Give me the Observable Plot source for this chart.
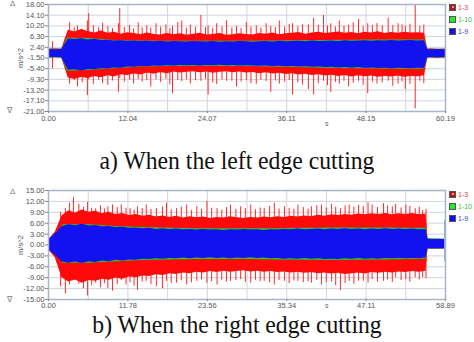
<!DOCTYPE html>
<html>
<head>
<meta charset="utf-8">
<script src="https://cdn.jsdelivr.net/npm/d3@7"></script>
<script src="https://cdn.jsdelivr.net/npm/@observablehq/plot@0.6"></script>
<style>
  html, body { margin: 0; padding: 0; background: #fff; }
  #wrap { position: relative; width: 474px; height: 342px; overflow: hidden; background: #fff; font-family: "Liberation Sans", Arial, sans-serif; }
  .plot { position: absolute; left: 0; }
  .cap { position: absolute; left: 0; width: 474px; text-align: center; font-family: "Liberation Serif", "Times New Roman", serif; font-size: 26px; color: #111; white-space: nowrap; line-height: 22px; height: 22px; transform: scaleX(0.91); transform-origin: 237px 0; }
  .lbl { position: absolute; font-size: 7px; color: #666; line-height: 1; }
  .arr { position: absolute; font-size: 8px; color: #777; line-height: 1; }
  .leg { position: absolute; left: 449px; font-size: 7px; line-height: 1; }
  .leg div { height: 12px; display: flex; align-items: center; }
  .sw { width: 7px; height: 7px; margin-right: 2px; box-sizing: border-box; border: 1px solid #555; position: relative; }
</style>
</head>
<body>
<div id="wrap"></div>
<script>
// ---------- Chart a: left edge cutting ----------
const aXTicks = [0, 12.04, 24.07, 36.11, 48.15, 60.19];
const aXGrid = [6.02, 12.04, 18.06, 24.07, 30.09, 36.11, 42.13, 48.15, 54.17];
const aYTicks = [18, 14.1, 10.2, 6.3, 2.4, -1.5, -5.4, -9.3, -13.2, -17.1, -21];

const aTime = [0,1,2,
  3,4,5,6,7,8,9,10,11,12,
  13,14,15,16,17,18,19,20,21,22,
  23,24,25,26,27,28,29,30,31,32,
  33,34,35,36,37,38,39,40,41,42,
  43,44,45,46,47,48,49,50,51,52,
  53,54,55,56,57,
  57.5,58,59,60.19];
const aRedHi = [1.8,1.9,1.8,
  8.6,8.0,8.9,8.2,7.6,8.3,7.5,7.9,7.2,7.7,
  7.4,7.0,7.6,7.1,6.9,7.4,7.0,7.3,6.8,7.2,
  7.5,6.9,7.1,7.4,6.8,7.0,7.3,7.1,6.9,7.4,
  7.2,7.6,7.0,7.3,7.5,7.8,7.2,7.6,7.9,7.4,
  7.7,8.0,7.5,7.8,7.3,7.9,7.6,8.1,7.4,7.8,
  7.5,7.9,7.6,7.7,7.5,
  1.8,1.9,1.7,1.8];
const aRedLo = [-1.5,-1.4,-1.5,
  -8.8,-9.3,-8.6,-9.0,-8.2,-8.7,-8.0,-8.4,-7.6,-7.9,
  -7.3,-7.7,-7.0,-7.4,-6.8,-7.2,-6.6,-7.0,-6.7,-6.5,
  -6.9,-6.6,-7.1,-6.7,-6.5,-6.9,-6.6,-7.0,-6.8,-7.2,
  -6.9,-7.3,-7.1,-7.5,-7.2,-7.7,-7.4,-7.9,-7.6,-8.1,
  -7.8,-8.2,-7.9,-8.4,-8.0,-8.3,-8.1,-8.5,-8.2,-8.4,
  -8.1,-8.5,-8.2,-8.3,-8.0,
  -1.6,-1.5,-1.7,-1.5];
const aBlueHi = [1.6,1.5,1.6,
  5.4,5.2,5.5,5.1,5.3,4.9,5.0,4.7,4.8,4.6,
  4.7,4.5,4.6,4.4,4.6,4.3,4.5,4.4,4.3,4.5,
  4.4,4.3,4.5,4.2,4.4,4.3,4.5,4.4,4.2,4.4,
  4.5,4.3,4.6,4.4,4.5,4.6,4.4,4.7,4.5,4.6,
  4.7,4.5,4.8,4.6,4.7,4.8,4.6,4.8,4.7,4.9,
  4.7,4.8,4.9,4.7,4.8,
  1.6,1.5,1.6,1.5];
const aBlueLo = [-1.4,-1.3,-1.4,
  -6.0,-5.8,-6.2,-5.7,-5.8,-5.4,-5.5,-5.1,-5.2,-4.8,
  -4.9,-4.6,-4.7,-4.4,-4.5,-4.3,-4.4,-4.2,-4.3,-4.2,
  -4.4,-4.2,-4.3,-4.1,-4.3,-4.2,-4.4,-4.3,-4.4,-4.5,
  -4.4,-4.6,-4.5,-4.7,-4.6,-4.8,-4.7,-4.9,-4.8,-5.0,
  -4.9,-5.1,-5.0,-5.2,-5.0,-5.3,-5.1,-5.3,-5.2,-5.4,
  -5.2,-5.3,-5.4,-5.2,-5.3,
  -1.4,-1.3,-1.4,-1.3];

const aGreenTime = [0, 2, 2.9, 6, 10, 14, 18, 22, 26, 30, 34, 38, 42, 46, 50, 54, 57, 57.5, 60.19];
const aGreenHi = [1.7,1.7,5.7,5.6,4.9,4.7,4.6,4.6,4.6,4.6,4.7,4.8,4.9,5.0,5.1,5.1,5.1,1.7,1.7];
const aGreenLo = [-1.5,-1.5,-6.3,-6.1,-5.4,-4.8,-4.6,-4.5,-4.5,-4.6,-4.8,-5.0,-5.2,-5.4,-5.5,-5.6,-5.6,-1.5,-1.5];

const aSpikeT = [0.6,3.2,3.9,4.4,5.1,5.9,6.1,6.8,7.6,8.2,
  9.0,9.7,10.6,10.8,11.5,12.3,12.9,13.6,14.2,14.9,
  15.5,16.3,17.0,17.8,18.4,18.8,19.6,20.2,20.9,21.5,
  22.3,23.1,23.8,24.2,24.9,25.5,26.3,27.0,27.8,28.5,
  29.2,30.0,30.7,31.5,32.2,33.0,33.7,34.4,35.0,35.8,
  36.5,37.0,37.8,38.5,39.4,40.2,40.9,41.7,42.3,42.8,
  43.5,44.1,44.8,45.5,46.2,47.0,47.7,48.4,49.1,49.8,
  50.6,51.5,52.2,53.0,53.6,54.1,54.8,55.6,56.3,56.9];
const aSpikeHi = [4.5,11.4,9.5,10.2,9.0,12.0,14.7,10.3,9.6,11.2,
  10.0,9.2,11.0,16.5,9.6,10.4,9.1,11.3,9.5,10.2,
  9.4,11.0,9.8,10.6,9.2,10.0,11.4,12.0,9.4,10.5,
  9.7,14.0,9.6,10.1,9.3,11.0,9.9,12.1,9.5,10.0,
  9.3,11.5,9.8,10.2,9.4,11.0,10.0,9.6,12.0,9.7,
  10.8,11.0,9.9,10.6,10.5,13.0,10.4,14.0,10.2,11.0,
  9.8,12.0,10.1,10.5,11.3,12.5,10.0,11.0,10.4,11.0,
  10.2,13.0,10.3,11.0,10.6,10.0,10.8,18.0,10.0,10.5];
const aSpikeLo = [-5.5,-11,-9.8,-12,-10.5,-15.2,-9.5,-11.2,-9.6,-10.8,
  -11.5,-9.9,-14,-9,-10.3,-9.6,-11,-9.4,-10.2,-9.8,
  -12,-9.5,-10.4,-9.2,-11.3,-14.5,-9.7,-10.1,-9.5,-11,
  -9.8,-10,-9.3,-15,-10.6,-11.2,-9.5,-10,-9.9,-12,
  -10.2,-9.8,-10.8,-11.1,-9.6,-10.1,-14,-9.9,-11,-10.3,
  -9.7,-15,-10.5,-11.4,-13,-15,-10.9,-10,-11.6,-14,
  -10.4,-11,-10,-12,-10.7,-10,-11.5,-14.5,-10.3,-11,
  -10.6,-10,-11.8,-11,-10.2,-13,-11.1,-20,-10,-10.8];

// ---------- Chart b: right edge cutting ----------
const bXTicks = [0, 11.78, 23.56, 35.34, 47.11, 58.89];
const bXGrid = [5.89, 11.78, 17.67, 23.56, 29.45, 35.34, 41.23, 47.11, 53.0];
const bYTicks = [15, 12, 9, 6, 3, 0, -3, -6, -9, -12, -15];

const bTime = [0,1,2,
  3,4,5,6,7,8,9,10,11,12,
  13,14,15,16,17,18,19,20,21,22,
  23,24,25,26,27,28,29,30,31,32,
  33,34,35,36,37,38,39,40,41,42,
  43,44,45,46,47,48,49,50,51,52,
  53,54,55,56,
  56.3,57,58,58.89];
const bRedHi = [1.4,3.5,8.0,
  9.4,8.8,9.6,9.0,9.3,8.6,9.0,8.4,8.7,8.1,
  8.4,7.9,8.2,7.7,8.0,7.6,7.9,7.4,7.8,7.5,
  7.7,7.3,7.6,7.4,7.8,7.5,7.3,7.6,7.4,7.7,
  7.5,7.8,7.6,7.9,7.7,8.0,7.8,8.2,7.9,8.3,
  8.1,8.4,8.2,8.5,8.3,8.6,8.4,8.7,8.3,8.6,
  8.4,8.7,8.3,8.5,
  1.7,1.6,1.5,1.4];
const bRedLo = [-1.3,-3.5,-9.0,
  -10.2,-9.6,-10.5,-9.8,-10.0,-9.4,-9.7,-9.1,-9.4,-8.8,
  -9.0,-8.5,-8.7,-8.2,-8.4,-7.9,-8.1,-7.7,-7.9,-7.5,
  -7.7,-7.3,-7.6,-7.2,-7.5,-7.3,-7.1,-7.4,-7.2,-7.5,
  -7.3,-7.6,-7.4,-7.7,-7.5,-7.8,-7.6,-7.9,-7.7,-8.0,
  -7.8,-8.1,-7.9,-7.7,-8.0,-7.6,-7.8,-7.5,-7.7,-7.4,
  -7.6,-7.3,-7.5,-7.2,
  -1.2,-1.1,-1.2,-1.1];
const bBlueHi = [1.4,3.0,5.0,
  5.6,5.3,5.7,5.2,5.4,5.0,5.1,4.8,4.9,4.6,
  4.7,4.5,4.6,4.3,4.5,4.2,4.4,4.2,4.3,4.1,
  4.3,4.1,4.2,4.0,4.2,4.1,4.3,4.1,4.2,4.0,
  4.2,4.1,4.3,4.2,4.4,4.2,4.3,4.4,4.2,4.4,
  4.3,4.5,4.3,4.4,4.2,4.4,4.3,4.5,4.3,4.4,
  4.3,4.4,4.2,4.3,
  1.6,1.5,1.6,1.5];
const bBlueLo = [-1.3,-2.8,-4.6,
  -5.0,-4.7,-5.1,-4.6,-4.8,-4.4,-4.6,-4.2,-4.4,-4.1,
  -4.2,-3.9,-4.0,-3.8,-3.9,-3.7,-3.8,-3.6,-3.8,-3.6,
  -3.7,-3.5,-3.7,-3.6,-3.8,-3.6,-3.7,-3.5,-3.7,-3.6,
  -3.8,-3.7,-3.9,-3.8,-3.9,-3.7,-3.9,-3.8,-4.0,-3.9,
  -4.0,-3.8,-3.9,-3.7,-3.9,-3.8,-3.9,-3.7,-3.8,-3.7,
  -3.8,-3.7,-3.8,-3.6,
  -1.0,-1.1,-1.0,-1.0];

const bGreenTime = [0, 0.7, 2.2, 6, 10, 14, 18, 22, 26, 30, 34, 38, 42, 46, 50, 54, 56, 56.3, 58.89];
const bGreenHi = [1.5,1.5,5.6,5.6,5.1,4.8,4.6,4.5,4.5,4.5,4.5,4.6,4.7,4.7,4.7,4.6,4.6,1.7,1.6];
const bGreenLo = [-1.4,-1.4,-5.0,-5.0,-4.6,-4.3,-4.1,-4.0,-4.0,-4.0,-4.1,-4.2,-4.3,-4.2,-4.1,-4.0,-3.9,-1.1,-1.1];

const bSpikeT = [1.8,2.5,3.1,3.7,4.5,5.2,5.8,6.4,7.0,7.7,
  8.3,8.8,9.5,10.2,10.8,11.5,12.1,12.7,13.2,13.9,
  14.5,15.2,16.0,16.9,17.5,18.2,19.0,19.7,20.5,21.2,
  22.0,22.7,23.5,24.2,25.0,25.7,26.4,27.0,27.8,28.5,
  29.2,30.0,30.7,31.4,32.0,32.8,33.5,34.2,35.0,35.7,
  36.4,37.0,37.8,38.5,39.0,39.8,40.5,41.2,42.0,42.6,
  43.3,44.0,44.6,45.3,46.0,46.7,47.4,48.0,48.8,49.7,
  50.3,51.0,51.5,52.3,53.0,53.6,54.4,55.0,55.5,56.0];
const bSpikeHi = [9.0,10.0,11.5,13.1,11.2,10.4,11.7,10.1,10.0,10.8,
  9.9,10.5,11.0,10.3,11.0,10.1,10.0,9.6,10.5,10.0,
  11.0,9.8,10.0,10.5,11.5,9.7,10.0,10.4,11.0,9.5,
  10.5,9.8,12.0,10.1,10.0,9.6,10.3,11.0,9.8,10.5,
  10.0,11.0,9.7,10.2,10.0,10.6,11.5,9.9,10.5,10.1,
  9.8,11.0,10.3,9.9,10.5,10.8,11.0,10.2,11.2,10.4,
  10.0,10.7,11.0,10.4,10.9,10.5,11.6,11.0,10.3,11.4,
  10.8,10.5,11.2,10.2,11.0,10.6,10.0,10.4,9.5,9.8];
const bSpikeLo = [-11.5,-13.5,-11.0,-9.5,-10.8,-12.0,-14.0,-11.2,-10.5,-11.8,
  -10.6,-12.0,-12.7,-10.9,-9.8,-11.0,-10.4,-11.3,-12.5,-10.2,
  -10.0,-10.9,-11.5,-12.0,-10.0,-10.6,-10.5,-9.8,-11.0,-10.4,
  -10.0,-9.6,-10.5,-10.1,-11.0,-9.7,-10.2,-10.0,-9.8,-9.5,
  -10.3,-10.5,-9.7,-10.1,-10.0,-10.4,-11.0,-9.8,-10.0,-10.6,
  -9.9,-10.0,-10.3,-10.1,-10.5,-9.8,-11.0,-10.4,-10.2,-11.2,
  -12.5,-10.6,-10.0,-10.8,-10.0,-10.0,-10.5,-9.5,-10.2,-10.0,
  -9.6,-10.3,-9.0,-9.8,-9.5,-10.2,-9.0,-9.6,-9.0,-9.3];
const bEndSpikeT = [58.75];
const bEndSpikeHi = [6.8];
const bEndSpikeLo = [-4.6];

// ---------- rendering ----------
const RED = "#ff0a0a", GREEN = "#22cc22", BLUE = "#1212f0";
const fmt = d => d.toFixed(2);

function band(times, hi, lo) { return times.map((t, i) => ({t, hi: hi[i], lo: lo[i]})); }

function makeChart(o) {
  return Plot.plot({
    width: 474,
    height: o.height,
    marginLeft: 48,
    marginRight: 29,
    marginTop: 4,
    marginBottom: o.height - 4 - o.inner,
    style: {fontFamily: "Liberation Sans, Arial, sans-serif", fontSize: "7.5px", color: "#555", background: "#fff"},
    x: {domain: o.xDomain},
    y: {domain: o.yDomain},
    marks: [
      Plot.gridY(o.yTicks, {stroke: "#cfd4dd", strokeOpacity: 1}),
      Plot.gridX(o.xGrid, {stroke: "#cfd4dd", strokeOpacity: 1}),
      Plot.ruleX(o.spikes, {x: "t", y1: "lo", y2: "hi", stroke: "#ff2a2a", strokeWidth: 1}),
      Plot.areaY(o.red, {x: "t", y1: "lo", y2: "hi", fill: RED}),
      Plot.areaY(o.green, {x: "t", y1: "lo", y2: "hi", fill: GREEN}),
      Plot.areaY(o.blue, {x: "t", y1: "lo", y2: "hi", fill: BLUE}),
      o.extra ? Plot.ruleX(o.extra, {x: "t", y1: "lo", y2: "hi", stroke: "#8ea4de", strokeWidth: 1}) : null,
      Plot.frame({stroke: "#a9b4c8", strokeWidth: 1.5}),
      Plot.axisY(o.yTicks, {tickFormat: fmt, tickSize: 3, tickPadding: 1, stroke: "#888",
        label: "m/s^2", labelAnchor: "center", labelArrow: "none", labelOffset: 31, fill: "#555"}),
      Plot.axisX(o.xTicks, {tickFormat: fmt, tickSize: 2, tickPadding: o.xPad, stroke: "#888", label: null, fill: "#555"})
    ]
  });
}

const wrap = document.getElementById("wrap");

const chartA = makeChart({
  height: 125, inner: 107, xPad: 2,
  xDomain: [0, 60.19], yDomain: [-21, 18],
  xTicks: aXTicks, xGrid: aXGrid, yTicks: aYTicks,
  red: band(aTime, aRedHi, aRedLo),
  green: band(aGreenTime, aGreenHi, aGreenLo),
  blue: band(aTime, aBlueHi, aBlueLo),
  spikes: band(aSpikeT, aSpikeHi, aSpikeLo)
});
chartA.classList.add("plot");
chartA.style.top = "0px";
wrap.appendChild(chartA);

const chartB = makeChart({
  height: 124, inner: 109, xPad: 1,
  xDomain: [0, 58.89], yDomain: [-15, 15],
  xTicks: bXTicks, xGrid: bXGrid, yTicks: bYTicks,
  red: band(bTime, bRedHi, bRedLo),
  green: band(bGreenTime, bGreenHi, bGreenLo),
  blue: band(bTime, bBlueHi, bBlueLo),
  spikes: band(bSpikeT, bSpikeHi, bSpikeLo),
  extra: band(bEndSpikeT, bEndSpikeHi, bEndSpikeLo)
});
chartB.classList.add("plot");
chartB.style.top = "186px";
wrap.appendChild(chartB);

function addEl(cls, text, css) {
  const e = document.createElement("div");
  e.className = cls;
  e.textContent = text;
  Object.assign(e.style, css);
  wrap.appendChild(e);
  return e;
}

// axis unit labels and arrows
addEl("lbl", "s", {left: "325px", top: "120px"});
addEl("lbl", "s", {left: "325px", top: "302px"});
addEl("arr", "Δ", {left: "10px", top: "0px"});
addEl("arr", "∇", {left: "7px", top: "107px"});
addEl("arr", "Δ", {left: "10px", top: "188px"});
addEl("arr", "∇", {left: "7px", top: "296px"});

// captions
addEl("cap", "a) When the left edge cutting", {top: "150px"});
addEl("cap", "b) When the right edge cutting", {top: "314px"});

// legends
const legItems = [
  {name: "1-3", fill: "#b01818", text: "#e03a3a", dot: true},
  {name: "1-10", fill: "#22ee22", text: "#3cc03c", dot: false},
  {name: "1-9", fill: "#1010ee", text: "#3a3ae0", dot: false}
];
function addLegend(top) {
  const L = document.createElement("div");
  L.className = "leg";
  L.style.top = top + "px";
  for (const it of legItems) {
    const row = document.createElement("div");
    const sw = document.createElement("span");
    sw.className = "sw";
    sw.style.background = it.fill;
    if (it.dot) {
      const d = document.createElement("span");
      Object.assign(d.style, {position: "absolute", left: "1.5px", top: "1.5px", width: "2px", height: "2px", borderRadius: "50%", background: "#f5d0d0"});
      sw.appendChild(d);
    }
    const tx = document.createElement("span");
    tx.textContent = it.name;
    tx.style.color = it.text;
    row.appendChild(sw);
    row.appendChild(tx);
    L.appendChild(row);
  }
  wrap.appendChild(L);
}
addLegend(1);
addLegend(188);
</script>
</body>
</html>
